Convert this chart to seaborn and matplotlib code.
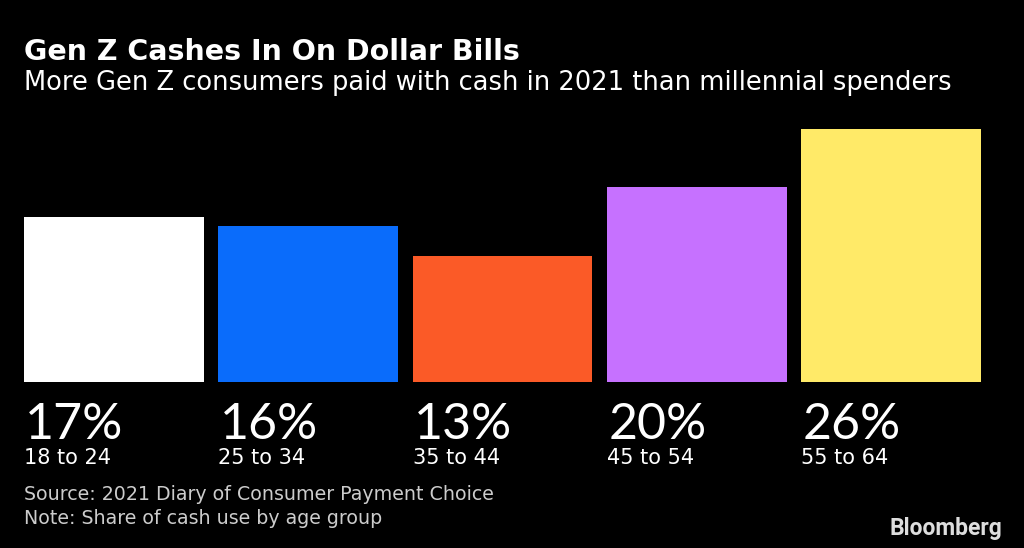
import matplotlib
matplotlib.use("Agg")
import matplotlib.pyplot as plt
import seaborn as sns
import pandas as pd

age_groups = ["18 to 24", "25 to 34", "35 to 44", "45 to 54", "55 to 64"]
cash_share = [17, 16, 13, 20, 26]
bar_colors = ["#ffffff", "#0a6cfb", "#fb5a27", "#c671ff", "#ffea68"]

df = pd.DataFrame({"age": age_groups, "share": cash_share})

sns.set_style("dark")
plt.rcParams["font.family"] = ["DejaVu Sans"]

fig = plt.figure(figsize=(10.24, 5.48), dpi=100, facecolor="black")
ax = fig.add_axes([24 / 1024, 1 - 382 / 548, 957 / 1024, 253 / 548])
ax.set_facecolor("black")

width = 180 / 194.5
sns.barplot(data=df, x="age", y="share", hue="age", palette=bar_colors,
            width=width, legend=False, ax=ax, saturation=1, linewidth=0)

ax.set_xlim(-width / 2, len(age_groups) - 1 + width / 2)
ax.set_ylim(0, max(cash_share))
ax.axis("off")

# value and age labels under each bar
for i, (age, val) in enumerate(zip(age_groups, cash_share)):
    ax.annotate(f"{val}%", xy=(i - width / 2, 0), xycoords="data",
                xytext=(1, -41), textcoords="offset points",
                ha="left", va="baseline", color="white", fontsize=36,
                family=["Lato", "DejaVu Sans"])
    ax.annotate(age, xy=(i - width / 2, 0), xycoords="data",
                xytext=(0, -59), textcoords="offset points",
                ha="left", va="baseline", color="white", fontsize=15)

fig.text(24 / 1024, 1 - 38 / 548, "Gen Z Cashes In On Dollar Bills",
         color="white", fontsize=20.5, fontweight="bold", va="top", ha="left")
fig.text(24 / 1024, 1 - 70 / 548,
         "More Gen Z consumers paid with cash in 2021 than millennial spenders",
         color="white", fontsize=18.5, va="top", ha="left")
fig.text(24 / 1024, 1 - 485 / 548, "Source: 2021 Diary of Consumer Payment Choice",
         color="#cccccc", fontsize=13.7, va="top", ha="left")
fig.text(24 / 1024, 1 - 509 / 548, "Note: Share of cash use by age group",
         color="#cccccc", fontsize=13.7, va="top", ha="left")
fig.text(1002 / 1024, 1 - 540 / 548, "Bloomberg", color="#dddddd",
         fontsize=16.5, fontweight="bold", family=["Roboto", "DejaVu Sans"],
         va="bottom", ha="right")

fig.savefig("out.png", dpi=100, facecolor="black")
